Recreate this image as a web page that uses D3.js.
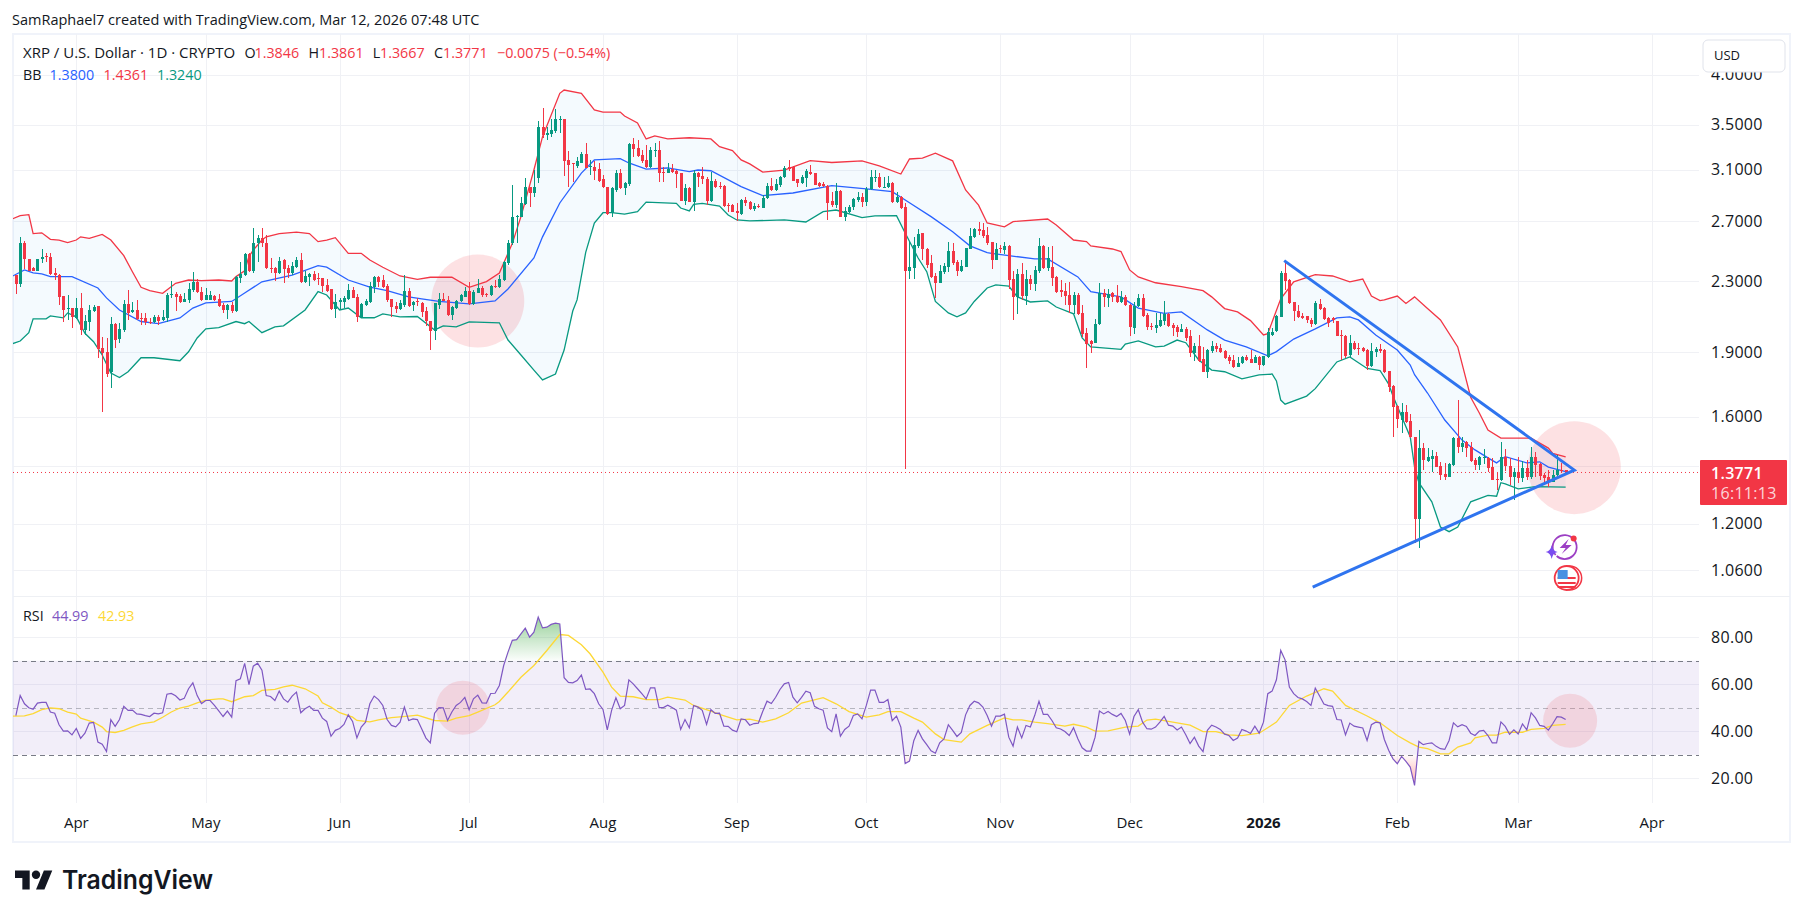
<!DOCTYPE html>
<html><head><meta charset="utf-8">
<style>html,body{margin:0;padding:0;background:#fff}svg{display:block}text{font-family:"Open Sans","Noto Sans",sans-serif}</style>
<script src="https://d3js.org/d3.v7.min.js"></script></head><body><div id="c"></div>
<script>
const firstCandle = "2025-03-18";
const opens = [2.338,2.283,2.55,2.438,2.385,2.366,2.438,2.46,2.456,2.35,
2.34,2.212,2.135,2.138,2.082,2.138,2.018,2.064,2.123,2.151,
1.921,1.902,1.804,2.05,1.968,2.018,2.164,2.118,2.129,2.084,
2.084,2.064,2.06,2.091,2.073,2.082,2.218,2.222,2.21,2.177,
2.187,2.246,2.297,2.236,2.189,2.189,2.21,2.193,2.157,2.129,
2.157,2.123,2.321,2.338,2.473,2.366,2.545,2.584,2.55,2.385,
2.385,2.35,2.434,2.382,2.35,2.39,2.434,2.295,2.328,2.345,
2.317,2.317,2.277,2.25,2.135,2.177,2.177,2.191,2.246,2.202,
2.088,2.157,2.177,2.266,2.323,2.307,2.27,2.191,2.151,2.135,
2.16,2.242,2.157,2.181,2.171,2.123,2.069,2.014,2.159,2.191,
2.187,2.10,2.138,2.179,2.206,2.24,2.164,2.23,2.26,2.222,
2.216,2.27,2.262,2.307,2.412,2.545,2.728,2.733,2.828,2.958,
2.916,3.03,3.48,3.403,3.412,3.44,3.543,3.55,3.183,3.155,
3.133,3.16,3.235,3.122,3.122,3.104,3.021,2.958,2.758,2.937,
3.076,2.95,2.984,3.322,3.283,3.226,3.183,3.122,3.263,3.269,
3.084,3.076,3.107,3.09,3.07,2.854,2.955,2.846,3.07,3.05,
3.024,2.854,3.005,2.968,2.968,2.818,2.818,2.775,2.753,2.859,
2.846,2.79,2.813,2.8,2.872,2.968,2.937,2.977,3.038,3.127,
3.127,3.021,2.99,3.035,3.079,3.073,2.99,2.984,2.968,2.851,
2.82,2.932,2.733,2.77,2.803,2.859,2.885,2.843,2.942,3.035,
3.041,2.958,2.958,2.993,2.843,2.885,2.808,2.366,2.382,2.527,
2.615,2.505,2.412,2.332,2.29,2.357,2.39,2.493,2.423,2.366,
2.39,2.509,2.59,2.645,2.638,2.603,2.554,2.434,2.515,2.50,
2.527,2.312,2.202,2.345,2.21,2.312,2.283,2.364,2.527,2.385,
2.387,2.328,2.246,2.24,2.216,2.157,2.218,2.11,2.0,1.957,
1.95,2.048,2.226,2.20,2.226,2.212,2.177,2.206,2.159,2.028,
2.151,2.20,2.10,2.04,2.028,2.04,2.069,2.106,2.046,2.036,
2.009,2.024,1.984,1.898,1.932,1.865,1.804,1.908,1.932,1.924,
1.906,1.875,1.862,1.829,1.845,1.875,1.865,1.848,1.878,1.835,
1.875,1.99,2.01,2.091,2.353,2.307,2.172,2.125,2.097,2.092,
2.073,2.049,2.164,2.14,2.086,2.082,2.067,1.991,1.987,1.885,
1.947,1.921,1.924,1.912,1.832,1.904,1.919,1.912,1.807,1.737,
1.646,1.587,1.618,1.581,1.513,1.214,1.469,1.421,1.428,1.44,
1.401,1.371,1.361,1.406,1.51,1.476,1.493,1.476,1.424,1.404,
1.43,1.432,1.396,1.354,1.348,1.434,1.403,1.359,1.378,1.356,
1.395,1.361,1.434,1.408,1.368,1.359,1.342,1.366,1.388,1.3846];
const highs = [2.338,2.59,2.563,2.438,2.39,2.44,2.505,2.478,2.482,2.382,
2.345,2.212,2.216,2.138,2.197,2.226,2.10,2.157,2.157,2.151,
1.982,1.975,2.09,2.058,2.054,2.187,2.246,2.177,2.187,2.11,
2.11,2.082,2.098,2.10,2.129,2.226,2.30,2.234,2.22,2.226,
2.287,2.357,2.312,2.262,2.256,2.238,2.218,2.22,2.167,2.164,
2.177,2.332,2.423,2.478,2.482,2.65,2.603,2.65,2.603,2.445,
2.39,2.452,2.438,2.40,2.423,2.452,2.478,2.366,2.35,2.366,
2.353,2.321,2.312,2.25,2.22,2.197,2.21,2.283,2.266,2.222,
2.167,2.191,2.297,2.332,2.332,2.338,2.283,2.191,2.177,2.187,
2.338,2.256,2.181,2.197,2.177,2.148,2.069,2.171,2.226,2.226,
2.212,2.151,2.187,2.22,2.266,2.297,2.246,2.312,2.27,2.23,
2.277,2.307,2.338,2.43,2.568,2.977,2.745,2.885,3.03,2.963,
3.098,3.537,3.655,3.48,3.55,3.645,3.58,3.55,3.26,3.155,
3.212,3.255,3.328,3.183,3.17,3.16,3.058,2.963,2.958,3.098,
3.104,3.003,3.328,3.373,3.358,3.269,3.313,3.298,3.328,3.35,
3.127,3.155,3.15,3.098,3.076,2.984,2.958,3.098,3.084,3.122,
3.044,3.084,3.027,3.003,2.974,2.833,2.828,2.838,2.864,2.885,
2.854,2.838,2.828,2.898,2.99,3.03,3.021,3.05,3.133,3.183,
3.133,3.027,3.058,3.104,3.14,3.076,3.003,3.003,2.977,2.924,
2.99,2.937,2.808,2.82,2.872,2.924,2.911,2.963,3.098,3.098,
3.076,3.044,3.05,2.998,2.924,2.89,2.833,2.557,2.59,2.643,
2.62,2.511,2.467,2.35,2.40,2.417,2.552,2.55,2.434,2.434,
2.511,2.65,2.655,2.693,2.685,2.662,2.557,2.545,2.534,2.557,
2.534,2.366,2.374,2.412,2.37,2.338,2.396,2.58,2.534,2.522,
2.527,2.332,2.307,2.287,2.297,2.236,2.226,2.157,2.027,1.964,
2.077,2.287,2.25,2.25,2.236,2.275,2.242,2.216,2.164,2.177,
2.22,2.22,2.114,2.058,2.11,2.114,2.181,2.11,2.058,2.046,
2.052,2.032,2.018,1.946,1.991,1.928,1.916,1.959,1.95,1.943,
1.912,1.887,1.885,1.875,1.882,1.887,1.912,1.885,1.882,1.882,
2.028,2.028,2.10,2.366,2.412,2.311,2.176,2.158,2.114,2.095,
2.082,2.181,2.191,2.144,2.088,2.088,2.067,2.018,1.991,1.991,
1.959,1.947,1.929,1.916,1.947,1.926,1.943,1.916,1.809,1.74,
1.648,1.66,1.65,1.611,1.516,1.543,1.489,1.469,1.463,1.454,
1.418,1.411,1.413,1.515,1.672,1.515,1.498,1.495,1.43,1.44,
1.466,1.434,1.43,1.374,1.493,1.467,1.43,1.392,1.434,1.421,
1.424,1.476,1.454,1.411,1.376,1.386,1.388,1.444,1.411,1.3861];
const lows = [2.222,2.266,2.374,2.364,2.364,2.364,2.412,2.423,2.338,2.307,
2.157,2.064,2.073,2.03,2.077,1.991,1.991,2.014,2.118,1.87,
1.62,1.78,1.726,1.924,1.95,2.009,2.073,2.11,2.073,2.046,
2.046,2.049,2.054,2.046,2.067,2.064,2.197,2.125,2.167,2.177,
2.167,2.236,2.23,2.18,2.187,2.187,2.183,2.147,2.11,2.08,
2.11,2.118,2.29,2.332,2.36,2.353,2.423,2.522,2.374,2.353,
2.303,2.345,2.29,2.317,2.338,2.385,2.29,2.287,2.27,2.303,
2.277,2.236,2.236,2.129,2.084,2.129,2.138,2.187,2.197,2.064,
2.082,2.151,2.171,2.23,2.262,2.256,2.177,2.088,2.114,2.129,
2.148,2.148,2.123,2.151,2.091,2.04,1.912,1.964,2.133,2.179,
2.095,2.073,2.133,2.175,2.202,2.155,2.157,2.226,2.206,2.206,
2.21,2.256,2.256,2.30,2.40,2.534,2.545,2.728,2.823,2.808,
2.88,2.995,3.373,3.358,3.382,3.424,3.424,3.05,2.963,3.003,
3.113,3.155,3.113,3.058,3.016,3.003,2.95,2.745,2.733,2.924,
2.942,2.898,2.968,3.212,3.212,3.155,3.113,3.113,3.206,3.003,
3.003,3.07,3.076,2.95,2.849,2.82,2.84,2.778,2.963,2.984,
2.82,2.846,2.953,2.942,2.808,2.77,2.765,2.705,2.745,2.813,
2.783,2.778,2.795,2.795,2.864,2.932,2.932,2.963,3.03,3.093,
3.005,2.958,2.984,2.958,3.058,2.974,2.963,2.963,2.71,2.808,
2.795,2.728,2.705,2.763,2.783,2.846,2.808,2.813,2.937,3.003,
2.95,2.95,2.95,2.838,2.833,2.788,1.39,2.313,2.315,2.511,
2.434,2.38,2.317,2.197,2.287,2.345,2.36,2.40,2.332,2.36,
2.387,2.505,2.58,2.603,2.58,2.534,2.377,2.434,2.478,2.473,
2.25,2.073,2.106,2.187,2.157,2.246,2.242,2.353,2.378,2.364,
2.27,2.23,2.206,2.157,2.11,2.106,2.10,1.98,1.823,1.895,
1.946,2.044,2.148,2.148,2.177,2.171,2.171,2.153,1.987,1.996,
2.148,2.091,2.018,2.018,2.0,2.032,2.046,2.036,1.984,1.98,
2.005,1.959,1.875,1.858,1.854,1.802,1.776,1.898,1.903,1.895,
1.868,1.842,1.824,1.826,1.842,1.858,1.845,1.845,1.812,1.832,
1.87,1.985,2.005,2.088,2.246,2.162,2.069,2.084,2.077,2.055,
2.036,2.045,2.129,2.073,2.032,2.055,1.985,1.862,1.87,1.879,
1.912,1.887,1.904,1.812,1.829,1.875,1.896,1.80,1.71,1.513,
1.55,1.532,1.574,1.509,1.141,1.124,1.386,1.418,1.378,1.396,
1.348,1.35,1.359,1.403,1.45,1.456,1.437,1.415,1.386,1.386,
1.408,1.38,1.348,1.314,1.347,1.384,1.332,1.279,1.338,1.341,
1.348,1.352,1.361,1.348,1.344,1.326,1.341,1.365,1.378,1.3667];
const closes = [2.283,2.55,2.438,2.366,2.366,2.438,2.456,2.452,2.345,2.336,
2.206,2.129,2.14,2.088,2.138,2.018,2.069,2.129,2.144,1.916,
1.898,1.793,2.05,1.964,2.022,2.164,2.114,2.129,2.077,2.079,
2.06,2.06,2.088,2.069,2.088,2.216,2.222,2.206,2.177,2.193,
2.25,2.297,2.236,2.187,2.216,2.218,2.187,2.153,2.129,2.157,
2.123,2.328,2.345,2.473,2.366,2.55,2.584,2.55,2.38,2.378,
2.353,2.43,2.378,2.353,2.398,2.434,2.295,2.332,2.343,2.307,
2.312,2.27,2.242,2.135,2.177,2.187,2.20,2.246,2.20,2.091,
2.164,2.183,2.27,2.328,2.297,2.266,2.187,2.148,2.135,2.171,
2.24,2.153,2.175,2.175,2.118,2.067,2.014,2.167,2.193,2.183,
2.10,2.148,2.183,2.214,2.24,2.164,2.234,2.258,2.216,2.216,
2.268,2.262,2.314,2.423,2.545,2.733,2.738,2.833,2.958,2.916,
2.963,3.48,3.403,3.424,3.449,3.55,3.553,3.177,3.14,3.147,
3.17,3.235,3.116,3.133,3.093,3.01,2.958,2.753,2.95,3.076,
2.95,2.99,3.322,3.277,3.218,3.17,3.122,3.269,3.269,3.076,
3.076,3.107,3.084,3.065,2.854,2.955,2.846,3.076,3.044,3.021,
2.854,3.005,2.963,2.958,2.813,2.81,2.77,2.758,2.859,2.838,
2.79,2.813,2.808,2.877,2.968,2.937,2.984,3.044,3.113,3.104,
3.01,2.99,3.044,3.09,3.062,2.979,2.968,2.968,2.838,2.818,
2.932,2.733,2.778,2.808,2.864,2.885,2.843,2.947,3.038,3.038,
2.958,2.963,2.99,2.846,2.885,2.795,2.366,2.387,2.532,2.611,
2.505,2.40,2.328,2.29,2.364,2.396,2.493,2.412,2.364,2.396,
2.511,2.595,2.645,2.634,2.598,2.545,2.434,2.505,2.505,2.527,
2.307,2.202,2.345,2.21,2.312,2.283,2.37,2.527,2.385,2.445,
2.321,2.236,2.234,2.21,2.157,2.216,2.106,1.996,1.943,1.943,
2.05,2.226,2.202,2.222,2.202,2.177,2.202,2.157,2.032,2.153,
2.197,2.095,2.032,2.036,2.046,2.073,2.106,2.04,2.03,2.007,
2.024,1.975,1.898,1.932,1.858,1.804,1.912,1.932,1.917,1.90,
1.873,1.857,1.829,1.847,1.878,1.862,1.848,1.878,1.837,1.882,
2.007,2.009,2.095,2.35,2.303,2.168,2.125,2.088,2.086,2.073,
2.05,2.168,2.137,2.079,2.058,2.073,1.987,1.985,1.884,1.947,
1.918,1.918,1.909,1.832,1.907,1.918,1.909,1.804,1.734,1.643,
1.59,1.618,1.578,1.513,1.214,1.469,1.424,1.437,1.44,1.398,
1.366,1.359,1.408,1.511,1.476,1.489,1.469,1.421,1.404,1.434,
1.437,1.393,1.35,1.352,1.434,1.401,1.359,1.378,1.356,1.392,
1.361,1.434,1.404,1.364,1.356,1.341,1.368,1.388,1.386,1.3771];

/* Bollinger bands: read as knots, day numbers counted from 2025-04-01 */
const upperDays = [-15,-13,-11,-10,-8,-6,-4,-2,0,1,3,6,8,11,13,15,17,20,23,26,29,33,36,37,39,40,41,43,44,47,51,54,56,58,60,63,66,68,71,75,79,82,87,91,95,98,101,103,106,108,112,113,117,120,122,126,127,130,132,134,137,142,147,149,152,154,156,159,164,170,175,182,186,191,193,196,199,203,206,209,211,215,217,225,227,231,234,235,240,242,244,246,250,256,261,263,266,269,272,275,276,279,282,287,291,295,298,300,302,303,306,308,310,313,316,320,323,325,327,330,337,341,342,345];
const upperVals = [2.715,2.741,2.749,2.613,2.618,2.573,2.568,2.55,2.568,2.59,2.58,2.607,2.568,2.463,2.359,2.262,2.242,2.226,2.287,2.307,2.303,2.307,2.301,2.328,2.364,2.458,2.50,2.568,2.59,2.613,2.623,2.613,2.557,2.568,2.584,2.478,2.478,2.434,2.387,2.332,2.311,2.324,2.324,2.262,2.297,2.35,2.545,2.734,3.098,3.388,3.805,3.839,3.805,3.639,3.619,3.619,3.58,3.515,3.367,3.394,3.367,3.378,3.367,3.298,3.263,3.183,3.149,3.081,3.098,3.177,3.161,3.175,3.132,3.065,3.191,3.199,3.241,3.175,2.937,2.82,2.688,2.66,2.698,2.717,2.674,2.568,2.557,2.528,2.507,2.49,2.37,2.326,2.29,2.266,2.242,2.205,2.137,2.118,2.069,1.991,1.998,2.194,2.296,2.34,2.332,2.296,2.313,2.21,2.183,2.187,2.21,2.166,2.205,2.137,2.073,1.928,1.685,1.615,1.543,1.51,1.51,1.47,1.449,1.4361];
const midDays = [-15,-12,-10,-8,-6,-1,5,7,10,15,19,24,27,30,36,39,43,50,56,58,63,68,72,77,80,84,91,97,100,106,108,112,117,120,126,128,132,137,142,144,147,154,159,166,175,183,189,193,198,203,207,211,212,216,222,225,232,235,242,246,252,256,262,266,271,276,278,282,287,292,295,297,301,306,309,310,313,317,321,324,327,329,331,336,339,341,345];
const midVals = [2.328,2.37,2.352,2.345,2.328,2.328,2.258,2.199,2.129,2.064,2.052,2.084,2.14,2.17,2.178,2.228,2.296,2.338,2.397,2.388,2.307,2.264,2.242,2.205,2.193,2.178,2.164,2.181,2.252,2.447,2.59,2.836,3.073,3.183,3.194,3.157,3.106,3.115,3.084,3.098,3.092,2.963,2.892,2.913,2.971,2.945,2.924,2.838,2.734,2.626,2.528,2.482,2.477,2.463,2.441,2.441,2.326,2.236,2.205,2.14,2.11,2.118,2.018,1.964,1.928,1.883,1.904,1.969,2.024,2.084,2.09,2.073,1.991,1.912,1.837,1.79,1.704,1.585,1.502,1.463,1.432,1.413,1.437,1.413,1.417,1.397,1.38];
const lowerDays = [-15,-13,-11,-10,-7,-6,-3,-2,0,2,4,6,8,10,12,15,18,24,26,28,30,33,37,39,40,43,46,48,53,56,58,61,63,66,69,71,75,79,83,85,88,91,98,100,103,106,108,111,113,115,116,118,120,122,124,127,130,132,139,140,142,143,145,149,151,153,156,164,169,173,176,182,185,190,192,195,197,199,202,204,206,208,211,213,216,218,221,225,227,231,233,235,242,243,246,250,252,255,257,260,263,266,270,274,277,278,279,280,285,287,292,295,299,302,304,305,309,310,311,314,316,318,320,323,327,329,330,331,334,338,345];
const lowerVals = [1.943,1.959,2.003,2.079,2.079,2.095,2.084,2.112,2.09,2.0,1.955,1.887,1.798,1.776,1.804,1.873,1.873,1.858,1.903,1.975,2.024,2.03,2.064,2.052,2.064,2.003,2.035,2.04,2.129,2.236,2.216,2.129,2.14,2.085,2.085,2.107,2.09,2.092,2.018,2.04,2.035,2.062,2.057,1.964,1.887,1.812,1.765,1.793,1.912,2.123,2.187,2.484,2.688,2.763,2.763,2.753,2.771,2.843,2.833,2.798,2.776,2.826,2.833,2.812,2.746,2.71,2.703,2.71,2.695,2.771,2.783,2.727,2.739,2.741,2.617,2.447,2.359,2.178,2.112,2.09,2.112,2.178,2.258,2.277,2.27,2.205,2.175,2.181,2.146,2.107,1.975,1.928,1.916,1.943,1.96,1.928,1.932,1.964,1.95,1.862,1.812,1.804,1.77,1.789,1.793,1.76,1.672,1.654,1.69,1.724,1.852,1.877,1.82,1.81,1.745,1.69,1.515,1.397,1.34,1.273,1.19,1.175,1.19,1.273,1.295,1.292,1.34,1.336,1.318,1.326,1.324];

const rsiVals = [46.7,55.2,51.7,50.0,49.4,52.0,52.3,52.3,48.2,47.7,42.8,40.1,40.2,38.5,41.2,37.0,39.2,43.5,43.8,35.4,
34.5,31.4,44.9,42.1,45.0,50.6,48.9,49.0,47.4,47.2,46.7,46.3,47.7,47.4,47.9,55.8,56.1,55.1,53.3,54.0,
58.1,60.6,55.2,51.8,53.1,53.1,51.0,48.7,46.3,48.6,46.0,61.5,62.3,68.9,59.9,67.7,69.0,66.0,55.2,54.8,
53.1,57.1,53.8,52.4,55.0,56.7,47.9,49.6,50.7,48.9,48.9,45.6,44.2,37.9,40.4,41.2,42.9,47.0,44.2,37.2,
41.8,43.9,51.7,55.0,53.5,51.0,45.0,42.5,41.9,43.9,50.3,44.6,45.3,45.0,41.1,37.1,35.1,47.7,50.1,50.0,
44.6,48.2,51.0,52.3,54.4,49.2,53.8,55.4,52.1,52.0,56.1,56.2,59.5,68.0,73.7,78.7,79.0,81.5,83.9,80.1,
82.2,88.6,84.0,84.3,85.5,86.0,85.7,62.8,60.8,60.6,61.6,63.9,57.8,58.0,56.0,51.7,49.3,40.6,48.9,54.3,
49.6,51.0,61.9,60.2,58.1,56.0,53.8,58.5,58.5,50.1,50.1,51.1,50.1,49.0,40.8,45.0,41.5,51.0,50.3,48.9,
42.9,49.2,47.6,47.7,42.2,42.1,40.5,39.8,45.3,44.9,42.6,43.3,43.5,48.4,52.8,51.8,54.5,57.8,60.2,60.8,
54.5,52.1,54.4,57.1,56.4,50.6,49.6,49.0,41.4,39.8,47.4,37.9,40.8,42.2,46.7,47.4,45.3,51.0,57.5,57.5,
52.3,52.3,53.5,44.5,46.5,41.8,26.3,27.3,36.0,40.4,36.8,34.3,31.7,30.7,35.1,36.8,42.8,40.4,37.8,39.5,
47.0,51.0,52.8,52.1,50.3,46.7,42.2,46.5,46.5,47.3,37.5,33.7,41.8,37.2,42.5,41.8,46.7,52.8,47.2,47.2,
44.6,41.5,41.0,39.9,38.2,41.5,36.8,33.0,31.6,31.6,37.5,48.6,47.4,48.4,47.2,46.3,47.6,44.6,38.8,46.3,
49.2,43.9,41.1,40.9,41.8,43.9,46.3,42.6,42.2,40.6,41.8,38.5,34.8,37.5,33.7,31.4,40.4,42.6,41.8,40.8,
38.8,38.2,36.1,37.1,40.8,40.1,39.1,42.2,39.2,43.9,56.0,57.1,61.9,74.4,70.4,58.8,56.0,54.4,53.8,52.7,
51.0,58.4,55.0,51.6,50.9,50.6,45.0,44.8,38.5,43.5,42.2,41.8,41.4,36.1,42.8,43.9,43.6,36.5,31.9,28.3,
26.2,29.3,27.2,24.8,17.0,35.7,34.3,34.8,35.1,33.6,32.6,32.3,36.1,43.6,41.9,42.8,42.1,39.2,38.2,40.1,
40.4,38.2,35.1,35.1,44.0,42.1,38.7,40.6,38.9,43.1,40.6,47.9,45.7,42.5,42.1,40.5,43.2,46.2,46.0,44.99];
const rsiMaDays = [-15,-12,-10,-8,-6,-4,-2,0,1,4,6,7,9,11,13,15,18,20,22,24,26,28,30,33,34,36,39,41,43,46,48,50,53,56,57,59,61,64,65,68,70,73,77,79,83,86,88,91,93,97,98,100,103,106,109,112,114,117,119,122,124,126,129,132,135,137,141,143,147,149,153,156,159,162,165,168,173,176,179,181,183,186,188,191,194,196,199,201,205,207,211,215,217,219,222,225,229,231,234,236,239,243,246,248,250,253,258,261,264,267,270,274,278,281,285,289,291,294,299,302,306,309,311,313,316,318,320,323,324,327,329,331,335,337,340,342,345];
const rsiMaVals = [46.4,46.6,47.5,49.2,50.0,49.6,48.2,47.3,45.6,43.9,41.8,39.9,39.5,40.4,41.9,43.2,44.0,46.0,48.2,49.9,50.7,52.1,53.3,53.8,53.8,52.6,54.7,55.2,57.4,57.8,58.9,59.6,58.1,55.0,52.1,50.3,47.9,46.0,44.6,44.0,44.9,45.8,46.5,46.9,44.6,44.3,45.6,46.7,48.2,51.3,52.7,56.7,63.0,68.0,74.4,81.2,80.8,76.8,73.0,65.2,58.8,55.0,54.7,53.5,53.5,54.5,53.3,51.0,48.6,47.2,44.9,45.2,43.9,45.3,47.9,52.0,54.3,51.7,48.4,47.2,46.0,47.0,48.4,48.4,45.6,43.9,38.9,36.5,35.4,38.9,42.5,45.7,44.9,44.9,43.9,43.3,42.2,43.0,41.8,40.1,40.2,41.8,42.2,44.8,45.2,44.2,42.6,39.9,39.9,38.5,38.2,39.2,43.9,51.0,55.0,58.1,57.1,51.0,46.5,43.6,38.2,35.1,33.3,32.6,30.4,30.4,33.3,35.1,37.2,38.4,38.4,39.6,39.6,40.8,41.2,42.5,42.93];

const priceTicks = [4,3.5,3.1,2.7,2.3,1.9,1.6,1.4,1.2,1.06];
const rsiTicks = [80,60,40,20];
const rsiLevels = [70,50,30];
const monthLabels = ["Apr","May","Jun","Jul","Aug","Sep","Oct","Nov","Dec","2026","Feb","Mar","Apr"];
const monthDates = ["2025-04-01","2025-05-01","2025-06-01","2025-07-01","2025-08-01","2025-09-01","2025-10-01","2025-11-01","2025-12-01","2026-01-01","2026-02-01","2026-03-01","2026-04-01"];
const trendDays = [279.8,347,286.4];
const trendPrices = [2.43,1.386,1.013];
const lastPrice = 1.3771;
const highlightMain = [{day:93,price:2.18},{day:347,price:1.395}];
const highlightRsi = [{day:90,v:50},{day:346.5,v:44.5}];

const W=1804,H=918, L=13, R=1699, mainTop=34, mainBot=596, rsiBot=803;
const parse=d3.utcParse("%Y-%m-%d");
const dayOf=s=>d3.utcDay.count(parse("2025-04-01"),parse(s));
const x=d3.scaleLinear().domain([0,365]).range([76.3,1652]);
const y=d3.scaleLog().domain([4,1.06]).range([74.7,570.1]);
const yr=d3.scaleLinear().domain([80,20]).range([637.3,778.3]);
const offset=dayOf(firstCandle);
const candleDay=i=>i+offset;

const svg=d3.select("#c").append("svg").attr("width",W).attr("height",H);
const defs=svg.append("defs");
defs.append("clipPath").attr("id","paneMain").append("rect").attr("x",L).attr("y",mainTop).attr("width",R-L).attr("height",mainBot-mainTop);
defs.append("clipPath").attr("id","paneRsi").append("rect").attr("x",L).attr("y",mainBot).attr("width",R-L).attr("height",rsiBot-mainBot);
defs.append("clipPath").attr("id","aboveOb").append("rect").attr("x",L).attr("y",mainBot).attr("width",R-L).attr("height",yr(70)-mainBot);
defs.append("clipPath").attr("id","belowOs").append("rect").attr("x",L).attr("y",yr(30)).attr("width",R-L).attr("height",rsiBot-yr(30));
const gGreen=defs.append("linearGradient").attr("id","gGreen").attr("gradientUnits","userSpaceOnUse").attr("x1",0).attr("x2",0).attr("y1",yr(88)).attr("y2",yr(70));
gGreen.append("stop").attr("offset",0).attr("stop-color","#4caf50").attr("stop-opacity",.55);
gGreen.append("stop").attr("offset",1).attr("stop-color","#4caf50").attr("stop-opacity",.02);
const gRed=defs.append("linearGradient").attr("id","gRed").attr("gradientUnits","userSpaceOnUse").attr("x1",0).attr("x2",0).attr("y1",yr(30)).attr("y2",yr(17));
gRed.append("stop").attr("offset",0).attr("stop-color","#ff5252").attr("stop-opacity",.02);
gRed.append("stop").attr("offset",1).attr("stop-color","#ff5252").attr("stop-opacity",.5);

const ink="#131722", gridC="#f0f1f5", UP="#089981", DN="#f23645";
function txt(g,x0,y0,s,o={}){return g.append("text").attr("x",x0).attr("y",y0).attr("dy","0.35em").attr("font-size",o.size||14).attr("fill",o.fill||ink).attr("text-anchor",o.anchor||"start").attr("font-weight",o.weight||400).attr("letter-spacing",o.ls||0).text(s);}

/* frame */
svg.append("rect").attr("x",13).attr("y",34).attr("width",1777).attr("height",808).attr("fill","#fff").attr("stroke","#f0f3fa").attr("stroke-width",2);

/* grid */
const grid=svg.append("g").attr("stroke",gridC).attr("stroke-width",1).attr("shape-rendering","crispEdges");
monthDates.forEach(m=>{const X=Math.round(x(dayOf(m)))+.5;grid.append("line").attr("x1",X).attr("x2",X).attr("y1",mainTop).attr("y2",rsiBot);});
priceTicks.forEach(p=>{const Y=Math.round(y(p))+.5;grid.append("line").attr("x1",L).attr("x2",R).attr("y1",Y).attr("y2",Y);});
rsiTicks.forEach(p=>{const Y=Math.round(yr(p))+.5;grid.append("line").attr("x1",L).attr("x2",R).attr("y1",Y).attr("y2",Y);});
grid.append("line").attr("x1",L).attr("x2",1790).attr("y1",mainBot+.5).attr("y2",mainBot+.5).attr("stroke","#eef0f4");

/* main pane */
const main=svg.append("g").attr("clip-path","url(#paneMain)");
const up=upperDays.map((d,i)=>[d,upperVals[i]]), lo=lowerDays.map((d,i)=>[d,lowerVals[i]]), mi=midDays.map((d,i)=>[d,midVals[i]]);
const pl=d3.line().x(d=>x(d[0])).y(d=>y(d[1]));
main.append("path").attr("d",pl(up.concat(lo.slice().reverse()))+"Z").attr("fill","#2196f3").attr("fill-opacity",.05);
main.append("line").attr("x1",L).attr("x2",R).attr("y1",y(lastPrice)).attr("y2",y(lastPrice)).attr("stroke",DN).attr("stroke-dasharray","1 3").attr("stroke-width",1);
main.selectAll("circle.hl").data(highlightMain).join("circle").attr("class","hl").attr("cx",d=>x(d.day)).attr("cy",d=>y(d.price)).attr("r",46.5).attr("fill",DN).attr("fill-opacity",.15);
[[up,DN],[mi,"#2962ff"],[lo,UP]].forEach(([pts,c])=>main.append("path").attr("d",pl(pts)).attr("fill","none").attr("stroke",c).attr("stroke-width",1.3));

const idx=d3.range(closes.length);
const cx=i=>Math.round(x(candleDay(i)));
const col=i=>closes[i]>=opens[i]?UP:DN;
const candles=main.append("g").attr("shape-rendering","crispEdges");
candles.selectAll("rect.w").data(idx).join("rect").attr("class","w").attr("x",cx).attr("width",1).attr("y",i=>y(highs[i])).attr("height",i=>Math.max(1,y(lows[i])-y(highs[i]))).attr("fill",col);
candles.selectAll("rect.b").data(idx).join("rect").attr("class","b").attr("x",i=>cx(i)-1).attr("width",3).attr("y",i=>y(Math.max(opens[i],closes[i]))).attr("height",i=>Math.max(1,Math.abs(y(opens[i])-y(closes[i])))).attr("fill",col);

/* triangle */
const tri=trendDays.map((d,i)=>[d,trendPrices[i]]);
main.append("path").attr("d",pl(tri)).attr("fill","none").attr("stroke","#2f74ef").attr("stroke-width",3).attr("stroke-linejoin","miter");

/* event icons */
const ic=svg.append("g");
const cxI=x(345)-1, cyI=547;
ic.append("path").attr("d",`M${cxI-9} ${cyI+8}A12 12 0 1 1 ${cxI+8} ${cyI+9}A12 12 0 0 1 ${cxI-8} ${cyI+9}`).attr("fill","none").attr("stroke","#9c3fc4").attr("stroke-width",1.8);
ic.append("path").attr("d",`M${cxI+4} ${cyI-8}L${cxI-5} ${cyI+1}L${cxI+1} ${cyI+1}L${cxI-3} ${cyI+7}L${cxI+7} ${cyI-2}L${cxI+1} ${cyI-2}Z`).attr("fill","#9c3fc4");
ic.append("path").attr("d",`M${cxI-13} ${cyI-2}Q${cxI-12} ${cyI+4} ${cxI-7} ${cyI+5}Q${cxI-12} ${cyI+6} ${cxI-13} ${cyI+12}Q${cxI-14} ${cyI+6} ${cxI-19} ${cyI+5}Q${cxI-14} ${cyI+4} ${cxI-13} ${cyI-2}Z`).attr("fill","#7a4df0");
ic.append("circle").attr("cx",cxI+9).attr("cy",cyI-8.5).attr("r",3).attr("fill",DN);
const fx=cxI+2, fy=578;
ic.append("circle").attr("cx",fx+3).attr("cy",fy).attr("r",12).attr("fill","#fff").attr("stroke",DN).attr("stroke-width",1.5);
ic.append("circle").attr("cx",fx).attr("cy",fy).attr("r",12).attr("fill","#fff").attr("stroke",DN).attr("stroke-width",1.8);
[-1,4,8].forEach(o=>ic.append("rect").attr("x",fx-9).attr("y",fy+o).attr("width",18).attr("height",2).attr("fill",DN));
ic.append("rect").attr("x",fx-9).attr("y",fy-8).attr("width",10).attr("height",9).attr("fill","#4a90e2");

/* rsi pane */
const rp=svg.append("g").attr("clip-path","url(#paneRsi)");
rp.append("rect").attr("x",L).attr("width",R-L).attr("y",yr(70)).attr("height",yr(30)-yr(70)).attr("fill","#7e57c2").attr("fill-opacity",.1);
rsiLevels.forEach(v=>rp.append("line").attr("x1",L).attr("x2",R).attr("y1",Math.round(yr(v))+.5).attr("y2",Math.round(yr(v))+.5).attr("stroke","#787b86").attr("stroke-opacity",v===50?.5:1).attr("stroke-dasharray","5 4"));
const rsiPts=rsiVals.map((v,i)=>[candleDay(i),v]);
const ar=l=>d3.area().x(d=>x(d[0])).y1(d=>yr(d[1])).y0(yr(l));
rp.append("path").attr("d",ar(70)(rsiPts)).attr("clip-path","url(#aboveOb)").attr("fill","url(#gGreen)");
rp.append("path").attr("d",ar(30)(rsiPts)).attr("clip-path","url(#belowOs)").attr("fill","url(#gRed)");
rp.selectAll("circle.hl").data(highlightRsi).join("circle").attr("class","hl").attr("cx",d=>x(d.day)-2).attr("cy",d=>yr(d.v)).attr("r",27).attr("fill",DN).attr("fill-opacity",.14);
const rl=d3.line().x(d=>x(d[0])).y(d=>yr(d[1]));
rp.append("path").attr("d",rl(rsiMaDays.map((d,i)=>[d,rsiMaVals[i]]))).attr("fill","none").attr("stroke","#fdd835").attr("stroke-width",1.3);
rp.append("path").attr("d",rl(rsiPts)).attr("fill","none").attr("stroke","#7e57c2").attr("stroke-width",1.2);

/* axes text */
priceTicks.forEach(p=>txt(svg,1711,y(p),p.toFixed(4),{size:16,ls:.3}));
rsiTicks.forEach(v=>txt(svg,1711,yr(v),v.toFixed(2),{size:16,ls:.3}));
monthDates.forEach((m,i)=>txt(svg,x(dayOf(m)),823,monthLabels[i],{anchor:"middle",size:15,weight:monthLabels[i]==="2026"?700:400}));

/* price tag */
svg.append("rect").attr("x",1700).attr("y",460).attr("width",87).attr("height",45).attr("fill",DN).attr("rx",1);
txt(svg,1711,473,lastPrice.toFixed(4),{fill:"#fff",weight:600,size:16,ls:.3});
txt(svg,1711,493,"16:11:13",{fill:"#ffffff",size:16,ls:.3}).attr("fill-opacity",.8);

/* currency button */
svg.append("rect").attr("x",1703).attr("y",40).attr("width",82).attr("height",32).attr("rx",5).attr("fill","#fff").attr("stroke","#e0e3eb");
txt(svg,1714,55,"USD",{size:13});

/* header & legends */
txt(svg,12,20,"SamRaphael7 created with TradingView.com, Mar 12, 2026 07:48 UTC",{size:14.5});
txt(svg,23,53,"XRP / U.S. Dollar · 1D · CRYPTO",{size:15});
[["O",244.6,ink],["1.3846",254.5,DN],["H",308.5,ink],["1.3861",319,DN],["L",372.8,ink],["1.3667",380,DN],["C",434,ink],["1.3771",443,DN],["−0.0075 (−0.54%)",497,DN]].forEach(a=>txt(svg,a[1],53,a[0],{fill:a[2],size:14.3}));
txt(svg,23,74.7,"BB",{size:14.3});
[["1.3800",49.6,"#2962ff"],["1.4361",103.6,DN],["1.3240",157,UP]].forEach(a=>txt(svg,a[1],74.7,a[0],{fill:a[2],size:14.3}));
txt(svg,23,615.7,"RSI",{size:14.3});
[["44.99",52,"#7e57c2"],["42.93",98,"#fdd835"]].forEach(a=>txt(svg,a[1],615.7,a[0],{fill:a[2],size:14.3}));

/* brand */
const brand=svg.append("g").attr("transform","translate(15,866.4) scale(1.05)");
brand.append("path").attr("d","M14 22H7V11H0V4h14v18zM28 22h-8l7.5-18h8L28 22z").attr("fill","#131722");
brand.append("circle").attr("cx",20).attr("cy",8).attr("r",4).attr("fill","#131722");
svg.append("text").attr("x",62).attr("y",889).attr("font-size",26).attr("font-weight",600).attr("fill","#131722").style("font-family","Inter,Roboto,sans-serif").attr("textLength",151).attr("lengthAdjust","spacingAndGlyphs").text("TradingView");
</script></body></html>
